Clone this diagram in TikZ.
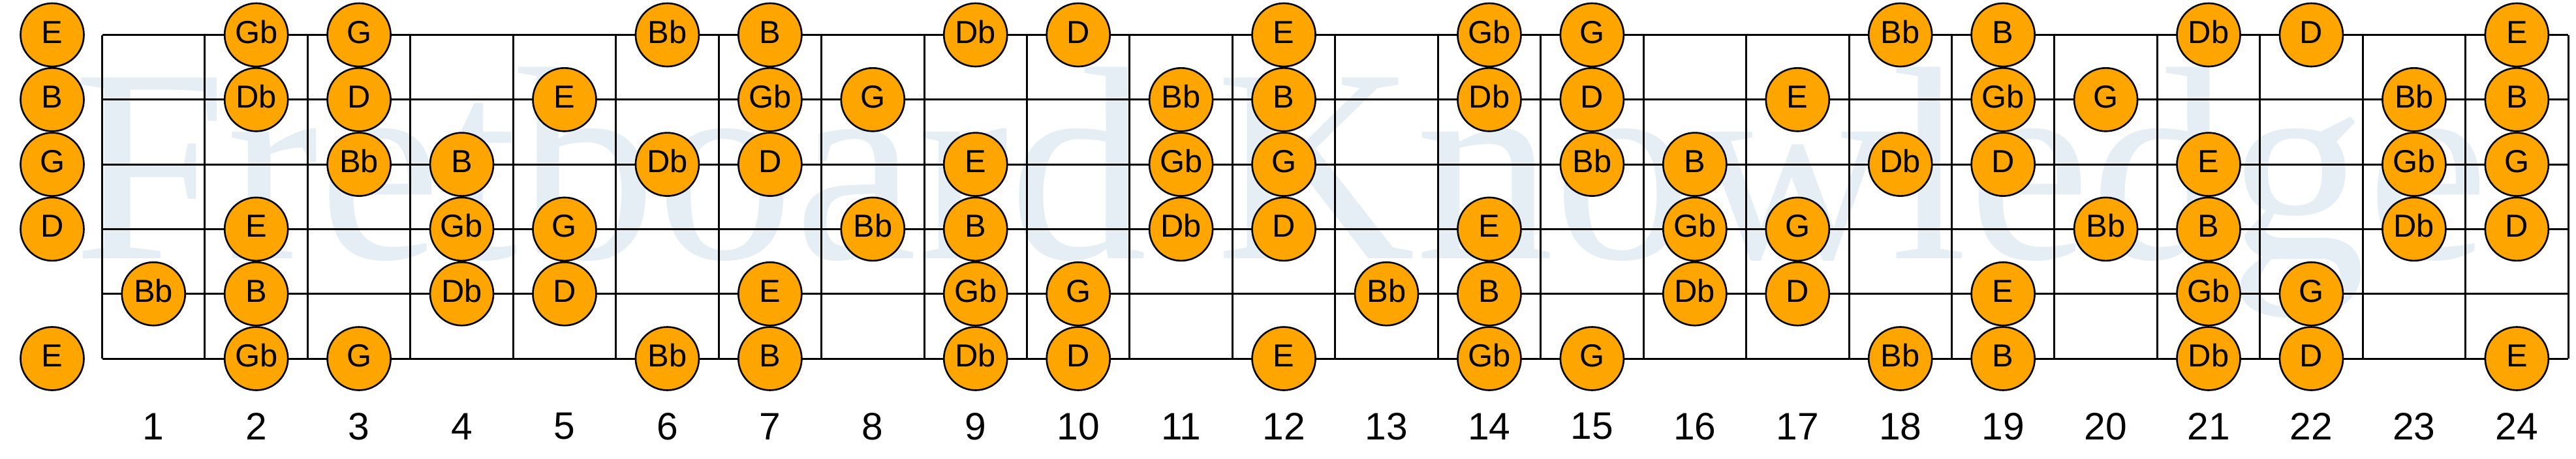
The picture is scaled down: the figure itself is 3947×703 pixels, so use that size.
\documentclass[tikz,border=0pt]{standalone}
\usepackage{fontspec}
\setmainfont{Liberation Sans}
\newfontfamily\markfont{Liberation Serif}
\usepackage{xcolor}
\definecolor{cNote}{HTML}{FFA500}
\definecolor{cMark}{HTML}{E6EEF5}
\usepackage{tikz}
\tikzset{
  note-dot/.style={draw=black,line width=0.75pt,circle,fill=cNote,
    minimum size=9.7mm,inner sep=0pt,text height=0.716em,text depth=0pt,
    font=\fontsize{13.9}{14}\selectfont},
  fret-num/.style={inner sep=0pt,font=\fontsize{16.7}{17}\selectfont},
  fret-line/.style={draw=black,line width=0.85pt},
  water-mark/.style={text=cMark,inner sep=0pt,anchor=base west,
    font=\markfont\fontsize{120.4}{121}\selectfont},
}

\begin{document}
\begin{tikzpicture}[x=0.1mm,y=-0.1mm,
  declare function={fretx(\f)=ifthenelse(\f==0,80,156.5+157.44*(\f-0.5));
                    strY(\s)=53.5+99.3*(\s-1);}]
  \useasboundingbox (0,0) rectangle (3947,703);
  % watermark behind the board
  \node[water-mark] (mark) at (112,396) {Fretboard Knowledge};
  % strings and frets
  \foreach \s in {1,...,6}
    \draw[fret-line] (156.5,{strY(\s)}) -- (3935,{strY(\s)});
  \foreach \f in {0,...,24}
    \draw[fret-line] ({156.5+157.44*\f},{strY(1)}) -- ({156.5+157.44*\f},{strY(6)});
  % notes, string by string (high E on top)
  \foreach \f/\n in {0/E,2/Gb,3/G,6/Bb,7/B,9/Db,10/D,12/E,14/Gb,15/G,18/Bb,19/B,21/Db,22/D,24/E}
    \node[note-dot] (e1-\f) at ({fretx(\f)},{strY(1)}) {\n};
  \foreach \f/\n in {0/B,2/Db,3/D,5/E,7/Gb,8/G,11/Bb,12/B,14/Db,15/D,17/E,19/Gb,20/G,23/Bb,24/B}
    \node[note-dot] (b2-\f) at ({fretx(\f)},{strY(2)}) {\n};
  \foreach \f/\n in {0/G,3/Bb,4/B,6/Db,7/D,9/E,11/Gb,12/G,15/Bb,16/B,18/Db,19/D,21/E,23/Gb,24/G}
    \node[note-dot] (g3-\f) at ({fretx(\f)},{strY(3)}) {\n};
  \foreach \f/\n in {0/D,2/E,4/Gb,5/G,8/Bb,9/B,11/Db,12/D,14/E,16/Gb,17/G,20/Bb,21/B,23/Db,24/D}
    \node[note-dot] (d4-\f) at ({fretx(\f)},{strY(4)}) {\n};
  \foreach \f/\n in {1/Bb,2/B,4/Db,5/D,7/E,9/Gb,10/G,13/Bb,14/B,16/Db,17/D,19/E,21/Gb,22/G}
    \node[note-dot] (a5-\f) at ({fretx(\f)},{strY(5)}) {\n};
  \foreach \f/\n in {0/E,2/Gb,3/G,6/Bb,7/B,9/Db,10/D,12/E,14/Gb,15/G,18/Bb,19/B,21/Db,22/D,24/E}
    \node[note-dot] (e6-\f) at ({fretx(\f)},{strY(6)}) {\n};
  % fret numbers
  \foreach \f in {1,...,24}
    \node[fret-num] (num-\f) at ({fretx(\f)},654) {\f};
\end{tikzpicture}
\end{document}
